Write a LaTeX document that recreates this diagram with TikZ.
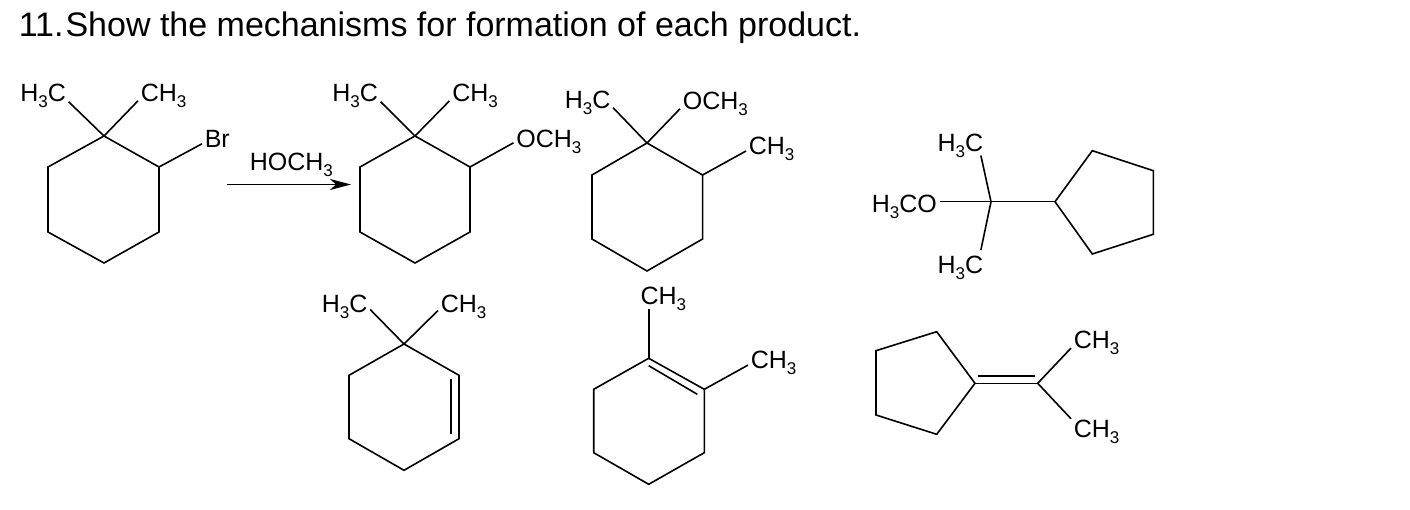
\documentclass[tikz,border=0pt]{standalone}
\usepackage{fontspec}
\setmainfont{Liberation Sans}
\usetikzlibrary{arrows.meta}

\newcommand{\sbs}[1]{\raisebox{-6pt}{\fontsize{17}{17}\selectfont #1}}
\tikzset{
  lab/.style={anchor=base west,inner xsep=2pt,inner ysep=0pt,text depth=0pt,font=\fontsize{25}{25}\selectfont},
  bond/.style={line width=1.6pt,line join=miter}
}

\begin{document}
\begin{tikzpicture}[x=1pt,y=-1pt,bond]

\useasboundingbox (0,0) rectangle (1410,510);

\node [anchor=base west,inner sep=0pt,font=\fontsize{34}{34}\selectfont] (title) at (18,37) {11.\kern2pt Show the mechanisms for formation of each product.};

% bromide
\coordinate (a1) at (104,136);
\coordinate (a2) at (159,167);
\coordinate (a3) at (159,232);
\coordinate (a4) at (104,263);
\coordinate (a5) at (48,232);
\coordinate (a6) at (48,167);
\draw  (a1) -- (a2) -- (a3) -- (a4) -- (a5) -- (a6) -- cycle;
\node [lab] (a1m) at (17.5,101.5) {H\sbs{3}C};
\node [lab] (a1n) at (138,101.5) {CH\sbs{3}};
\node [lab] (abr) at (202,148) {Br};
\draw  (a1) -- ([yshift=0.5pt]a1m.south east);
\draw  (a1) -- ([yshift=1.5pt]a1n.south west);
\draw  (a2) -- ([yshift=5pt]abr.south west);

% arrow
\node [lab] (reag) at (247,171) {HOCH\sbs{3}};
\coordinate (arrs) at (227,184.5);
\coordinate (arre) at (351,184.5);
\draw [-{Stealth[length=21pt,width=11pt,inset=6pt]}]  (arrs) -- (arre);

% ether 1
\coordinate (b1) at (415,136);
\coordinate (b2) at (470,167);
\coordinate (b3) at (470,232);
\coordinate (b4) at (415,263);
\coordinate (b5) at (360,232);
\coordinate (b6) at (360,167);
\draw  (b1) -- (b2) -- (b3) -- (b4) -- (b5) -- (b6) -- cycle;
\node [lab] (b1m) at (329.5,101.5) {H\sbs{3}C};
\node [lab] (b1n) at (449.5,101.5) {CH\sbs{3}};
\node [lab] (bo) at (513.5,147.5) {OCH\sbs{3}};
\draw  (b1) -- ([yshift=0.5pt]b1m.south east);
\draw  (b1) -- ([yshift=1.5pt]b1n.south west);
\draw  (b2) -- ([yshift=5.5pt]bo.south west);

% ether 2
\coordinate (c1) at (647,143);
\coordinate (c2) at (702.6,175);
\coordinate (c3) at (702.6,239);
\coordinate (c4) at (647,271);
\coordinate (c5) at (592,239);
\coordinate (c6) at (592,175);
\draw  (c1) -- (c2) -- (c3) -- (c4) -- (c5) -- (c6) -- cycle;
\node [lab] (c1m) at (562,108.5) {H\sbs{3}C};
\node [lab] (c1o) at (680,110) {OCH\sbs{3}};
\node [lab] (c2m) at (746,154.5) {CH\sbs{3}};
\draw  (c1) -- ([yshift=1.5pt]c1m.south east);
\draw  (c1) -- ([yshift=2pt]c1o.south west);
\draw  (c2) -- ([yshift=4.3pt]c2m.south west);

% cyclopentyl ether
\coordinate (d0) at (991,201.7);
\coordinate (d1) at (1055,201.7);
\coordinate (d2) at (1092.3,150.7);
\coordinate (d3) at (1153.3,170.7);
\coordinate (d4) at (1153.3,234.3);
\coordinate (d5) at (1092.3,254);
\draw  (d1) -- (d2) -- (d3) -- (d4) -- (d5) -- cycle;
\node [lab] (d0a) at (934.7,151.7) {H\sbs{3}C};
\node [lab] (d0b) at (934.7,273.7) {H\sbs{3}C};
\node [lab] (d0o) at (869,212.7) {H\sbs{3}CO};
\draw  (d0) -- (d1);
\draw  (d0) -- ([xshift=-5pt,yshift=-3pt]d0a.south east);
\draw  (d0) -- ([xshift=-5pt,yshift=5.5pt]d0b.north east);
\draw  (d0) -- (d0o.east |- d0);

% alkene 1
\coordinate (e1) at (404,344);
\coordinate (e2) at (459,375.3);
\coordinate (e3) at (459,438.7);
\coordinate (e4) at (404,470.3);
\coordinate (e5) at (349,438.7);
\coordinate (e6) at (349,375.3);
\coordinate (e7) at (451,379);
\coordinate (e8) at (451,434.3);
\draw  (e1) -- (e2) -- (e3) -- (e4) -- (e5) -- (e6) -- cycle;
\draw  (e7) -- (e8);
\node [lab] (e1m) at (319,312.7) {H\sbs{3}C};
\node [lab] (e1n) at (438,312.7) {CH\sbs{3}};
\draw  (e1) -- ([yshift=4pt]e1m.south east);
\draw  (e1) -- ([yshift=3pt]e1n.south west);

% alkene 2
\coordinate (f1) at (648.7,358.3);
\coordinate (f2) at (704.3,389.3);
\coordinate (f3) at (704.3,452.7);
\coordinate (f4) at (648.7,484.3);
\coordinate (f5) at (593.7,452.7);
\coordinate (f6) at (593.7,389.3);
\coordinate (f7) at (648.7,365.7);
\coordinate (f8) at (697.3,394.3);
\draw  (f1) -- (f2) -- (f3) -- (f4) -- (f5) -- (f6) -- cycle;
\draw  (f7) -- (f8);
\node [lab] (f1m) at (637.7,304.3) {CH\sbs{3}};
\node [lab] (f2m) at (748,368.3) {CH\sbs{3}};
\draw  (f1) -- ([xshift=11pt,yshift=-4pt]f1m.south west);
\draw  (f2) -- ([yshift=4pt]f2m.south west);

% alkene 3
\coordinate (g0) at (1037.7,383.3);
\coordinate (g1) at (975,383.3);
\coordinate (g2) at (936.7,331.7);
\coordinate (g3) at (876,350.7);
\coordinate (g4) at (876,415);
\coordinate (g5) at (936.7,434.3);
\coordinate (g6) at (977.7,375.7);
\coordinate (g7) at (1035,375.7);
\draw  (g1) -- (g2) -- (g3) -- (g4) -- (g5) -- cycle;
\draw  (g1) -- (g0);
\draw  (g6) -- (g7);
\node [lab] (g0a) at (1071,348.3) {CH\sbs{3}};
\node [lab] (g0b) at (1071,437) {CH\sbs{3}};
\draw  (g0) -- ([yshift=1pt]g0a.south west);
\draw  (g0) -- (g0b.north west);

\end{tikzpicture}
\end{document}
